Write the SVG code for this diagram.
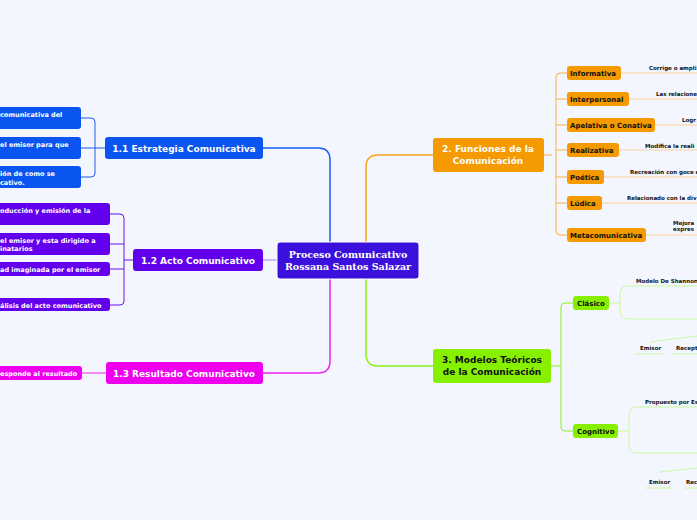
<svg xmlns="http://www.w3.org/2000/svg" width="697" height="520" viewBox="0 0 697 520">
<style>
.t{font-family:"DejaVu Sans",sans-serif;font-weight:bold;}
.w{fill:#fff}.k{fill:#111}
.s8{font-size:7px}.s6{font-size:5.5px}.s7{font-size:6.5px}.s10{font-size:9px}
</style>
<rect width="697" height="520" fill="#f3f6fe"/>
<g id="connectors" fill="none" stroke-width="1.5">
<path d="M263,148 H318 Q330,148 330,160 V242" stroke="#1a5ef0"/>
<path d="M263,260 H277" stroke="#b9a8f5"/>
<path d="M330,279 V361 Q330,373 318,373 H263" stroke="#ee22ee"/>
<path d="M366,242 V167 Q366,155 378,155 H433" stroke="#f9a21a"/>
<path d="M366,279 V354 Q366,366 378,366 H433" stroke="#8cf01a"/>
<g stroke="#1a5ef0" stroke-width="1"><path d="M81,118 H91 Q95,118 95,122 V173 Q95,177 91,177 H81 M81,148 H105"/></g>
<g stroke="#6a10ee" stroke-width="1"><path d="M110,214 H120 Q124,214 124,218 V301 Q124,305 120,305 H110 M110,244 H124 M110,269 H124 M124,260 H133"/></g>
<path d="M82,373 H106" stroke="#ee22ee" stroke-width="1"/>
<g stroke="#f9b040" stroke-width="1"><path d="M544,155 H552 M567,73 H560 Q556,73 556,77 V231 Q556,235 560,235 H567 M556,99 H567 M556,125 H567 M556,150 H567 M556,177 H567 M556,203 H567"/>
<path d="M621,73 H697 M629,99 H697 M655,125 H697 M619,150 H697 M604,177 H697 M602,203 H697 M646,235 H697" stroke="#fcd29a"/></g>
<g stroke="#8cf01a" stroke-width="1"><path d="M551,366 H561 M573,303 H565 Q561,303 561,307 V427 Q561,431 565,431 H573"/></g>
<g stroke="#c8f8a0" stroke-width="1"><path d="M609,303 H620 M628,286 H697 M628,319 H697 M628,286 Q620,286 620,294 V311 Q620,319 628,319"/>
<path d="M650,342 L697,336 M636,354 H664 M672,354 H697"/>
<path d="M618,431 H629 M637,407 H697 M637,453 H697 M637,407 Q629,407 629,415 V445 Q629,453 637,453"/>
<path d="M660,472 L697,468 M645,488 H674 M684,488 H697"/></g>
</g>
<g id="center"><rect x="277" y="242" width="142" height="37" rx="3" fill="#3b10dc" stroke="#fff"/>
<text x="348" y="258" text-anchor="middle" font-family="'DejaVu Serif',serif" font-weight="bold" font-size="9.5" fill="#fff">Proceso Comunicativo</text>
<text x="348" y="270" text-anchor="middle" font-family="'DejaVu Serif',serif" font-weight="bold" font-size="9.5" fill="#fff">Rossana Santos Salazar</text></g>
<g id="n11"><rect x="105" y="137" width="158" height="22" rx="3" fill="#0a55f0"/><text x="184" y="152" text-anchor="middle" class="t w s10">1.1 Estrategia Comunicativa</text></g>
<g id="n11a"><rect x="-5" y="107" width="86" height="22" rx="3" fill="#0a55f0"/><text x="0" y="117" class="t w s7">comunicativa del</text></g>
<g id="n11b"><rect x="-5" y="137" width="86" height="22" rx="3" fill="#0a55f0"/><text x="0" y="147" class="t w s7">el emisor para que</text></g>
<g id="n11c"><rect x="-5" y="166" width="86" height="22" rx="3" fill="#0a55f0"/><text x="0" y="176" class="t w s7">ión de como se</text><text x="0" y="185" class="t w s7">cativo.</text></g>
<g id="n12"><rect x="133" y="249" width="130" height="22" rx="3" fill="#6200ee"/><text x="198" y="264" text-anchor="middle" class="t w s10">1.2 Acto Comunicativo</text></g>
<g id="n12a"><rect x="-5" y="203" width="115" height="22" rx="3" fill="#6200ee"/><text x="0" y="213" class="t w s7">oducción y emisión de la</text></g>
<g id="n12b"><rect x="-5" y="233" width="115" height="22" rx="3" fill="#6200ee"/><text x="0" y="243" class="t w s7">el emisor y esta dirigido a</text><text x="0" y="251" class="t w s7">inatarios</text></g>
<g id="n12c"><rect x="-5" y="262" width="115" height="14" rx="3" fill="#6200ee"/><text x="0" y="271.5" class="t w s7">ad imaginada por el emisor</text></g>
<g id="n12d"><rect x="-5" y="298" width="115" height="13" rx="3" fill="#6200ee"/><text x="0" y="307.5" class="t w s7">álisis del acto comunicativo</text></g>
<g id="n13"><rect x="106" y="362" width="157" height="22" rx="3" fill="#ee00ee"/><text x="184" y="377" text-anchor="middle" class="t w s10">1.3 Resultado Comunicativo</text></g>
<g id="n13a"><rect x="-5" y="366" width="87" height="14" rx="3" fill="#ee00ee"/><text x="0" y="375.5" class="t w s7">esponde al resultado</text></g>
<g id="n2"><rect x="433" y="138" width="111" height="34" rx="3" fill="#f59a00"/><text x="488" y="152" text-anchor="middle" class="t w s10">2. Funciones de la</text><text x="488" y="164" text-anchor="middle" class="t w s10">Comunicación</text></g>
<g id="o1"><rect x="567" y="66" width="54" height="14" rx="3" fill="#f59a00"/><text x="570" y="76" class="t k s8">Informativa</text><text x="649" y="70" class="t k s6">Corrige o ampli</text></g>
<g id="o2"><rect x="567" y="92" width="62" height="14" rx="3" fill="#f59a00"/><text x="570" y="102" class="t k s8">Interpersonal</text><text x="656" y="96" class="t k s6">Las relacione</text></g>
<g id="o3"><rect x="567" y="118" width="88" height="14" rx="3" fill="#f59a00"/><text x="570" y="128" class="t k s8">Apelativa o Conativa</text><text x="682" y="122" class="t k s6">Logr</text></g>
<g id="o4"><rect x="567" y="143" width="52" height="14" rx="3" fill="#f59a00"/><text x="570" y="153" class="t k s8">Realizativa</text><text x="645" y="148" class="t k s6">Modifica la reali</text></g>
<g id="o5"><rect x="567" y="170" width="37" height="14" rx="3" fill="#f59a00"/><text x="570" y="180" class="t k s8">Poética</text><text x="630" y="174" class="t k s6">Recreación con goce e</text></g>
<g id="o6"><rect x="567" y="196" width="35" height="14" rx="3" fill="#f59a00"/><text x="570" y="206" class="t k s8">Lúdica</text><text x="627" y="200" class="t k s6">Relacionado con la div</text></g>
<g id="o7"><rect x="567" y="228" width="79" height="14" rx="3" fill="#f59a00"/><text x="570" y="238" class="t k s8">Metacomunicativa</text><text x="673" y="225" class="t k s6">Mejora</text><text x="673" y="231" class="t k s6">expres</text></g>
<g id="n3"><rect x="433" y="349" width="118" height="34" rx="3" fill="#86f000"/><text x="492" y="363" text-anchor="middle" class="t k s10">3. Modelos Teóricos</text><text x="492" y="375" text-anchor="middle" class="t k s10">de la Comunicación</text></g>
<g id="g1"><rect x="573" y="296" width="36" height="14" rx="3" fill="#86f000"/><text x="577" y="306" class="t k s8">Clásico</text><text x="636" y="283" class="t k s6">Modelo De Shannon</text><text x="640" y="350" class="t k s6">Emisor</text><text x="676" y="350" class="t k s6">Recept</text></g>
<g id="g2"><rect x="573" y="424" width="45" height="14" rx="3" fill="#86f000"/><text x="577" y="434" class="t k s8">Cognitivo</text><text x="645" y="404" class="t k s6">Propuesto por Es</text><text x="649" y="484" class="t k s6">Emisor</text><text x="686" y="484" class="t k s6">Rec</text></g>
</svg>
